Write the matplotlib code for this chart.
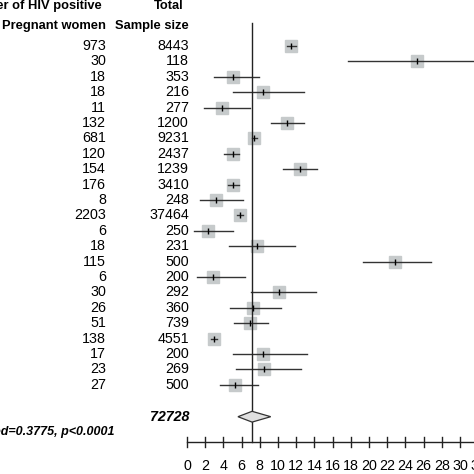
import matplotlib
matplotlib.use("Agg")
import matplotlib.pyplot as plt

plt.rcParams['font.family'] = ['Liberation Sans', 'DejaVu Sans']

hiv_pos = [973, 30, 18, 18, 11, 132, 681, 120, 154, 176, 8, 2203, 6, 18, 115, 6, 30, 26, 51, 138, 17, 23, 27]
sample = [8443, 118, 353, 216, 277, 1200, 9231, 2437, 1239, 3410, 248, 37464, 250, 231, 500, 200, 292, 360, 739, 4551, 200, 269, 500]
est = [11.4, 25.3, 5.1, 8.3, 3.9, 11.0, 7.4, 5.0, 12.4, 5.1, 3.2, 5.8, 2.3, 7.7, 22.9, 2.9, 10.1, 7.2, 6.9, 3.0, 8.4, 8.5, 5.3]
lo = [11.0, 17.7, 3.0, 5.0, 1.9, 9.2, 7.1, 4.1, 10.6, 4.5, 1.4, 5.5, 0.8, 4.6, 19.3, 1.1, 7.0, 4.7, 5.2, 2.6, 5.0, 5.4, 3.6]
hi = [12.0, 33.5, 7.9, 12.9, 6.9, 12.9, 7.7, 5.7, 14.3, 5.7, 6.2, 6.2, 5.1, 11.9, 26.8, 6.4, 14.2, 10.3, 8.9, 3.3, 13.2, 12.5, 7.8]
pooled = 7.15
pooled_lo, pooled_hi = 5.6, 9.2
total = 72728
ticks = list(range(0, 34, 2))

fig = plt.figure(figsize=(4.74, 4.74), dpi=100)
ax = fig.add_axes([0, 0, 1, 1])
px = 9.1  # pixels per unit
ax.set_xlim(-187 / px, (474 - 187) / px)
rp = 15.4
ax.set_ylim((474 - 46) / rp, -46 / rp)
ax.axis('off')

def ypx(p):
    return (p - 46) / rp

fs = 10.3
hfs = 9.3
for i in range(len(est)):
    ax.plot([lo[i], hi[i]], [i, i], color='#333333', lw=1.0, zorder=2)
    ax.plot(est[i], i, marker='s', ms=9, color='#c6cacb', mec='#c6cacb', zorder=1)
    ax.plot(est[i], i, marker='|', ms=4, color='black', mew=1, zorder=3)
    ax.text(-81 / px, i, str(hiv_pos[i]), ha='right', va='center', fontsize=fs)
    ax.text(2 / px, i, str(sample[i]), ha='right', va='center', fontsize=fs)

# headers
ax.text(-85 / px, ypx(6), 'Number of HIV positive', ha='right', va='center', fontsize=hfs, fontweight='bold')
ax.text(-81 / px, ypx(26), 'Pregnant women', ha='right', va='center', fontsize=hfs, fontweight='bold')
ax.text(-3 / px, ypx(6), 'Total', ha='right', va='center', fontsize=hfs, fontweight='bold')
ax.text(2 / px, ypx(26), 'Sample size', ha='right', va='center', fontsize=hfs, fontweight='bold')

# pooled
yd = ypx(416.7)
ax.fill([pooled_lo, pooled, pooled_hi, pooled], [yd, yd - 0.35, yd, yd + 0.35],
        facecolor='#e0e0e0', edgecolor='#333333', lw=0.9, zorder=3)
ax.text(2 / px, yd, str(total), ha='right', va='center', fontsize=fs, fontweight='bold', fontstyle='italic')
ax.text(-72 / px, ypx(432), 'I-squared=0.3775, p<0.0001', ha='right', va='center',
        fontsize=hfs - 0.3, fontweight='bold', fontstyle='italic')

# reference line
ax.plot([pooled, pooled], [ypx(23), ypx(442)], color='#222222', lw=1.0, zorder=2)

# x axis
ya = ypx(442)
ax.plot([0, 33], [ya, ya], color='#222222', lw=1.0)
for t in ticks:
    ax.plot([t, t], [ypx(437), ypx(447)], color='#222222', lw=1.0)
    ax.text(t, ypx(466), str(t), ha='center', va='center', fontsize=fs)

fig.savefig('out.png', dpi=100, facecolor='white')
